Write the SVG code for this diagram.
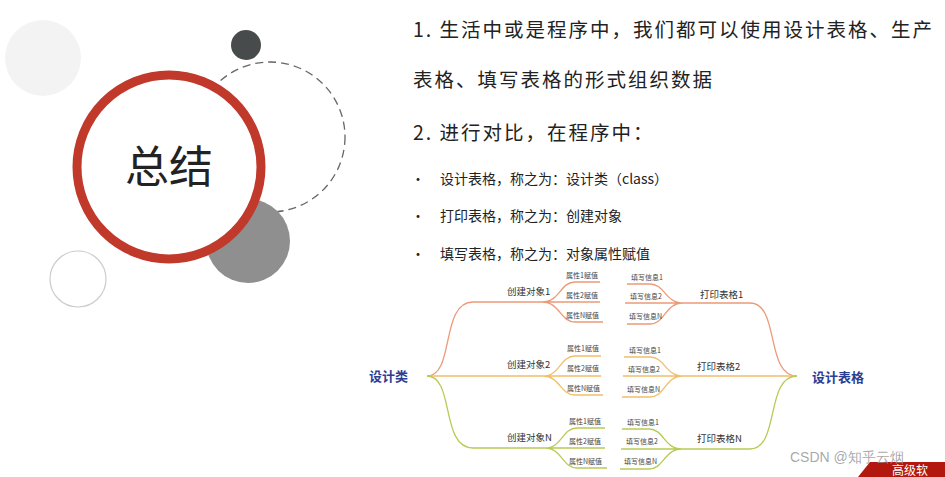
<svg xmlns="http://www.w3.org/2000/svg" width="945" height="477" viewBox="0 0 945 477">
<style>
.t{font-family:"Noto Sans CJK SC","Noto Sans",sans-serif;fill:#222}
.s{font-family:"Noto Sans CJK SC",sans-serif;font-size:7px;fill:#444}
.m{font-family:"Noto Sans CJK SC",sans-serif;font-size:9.5px;fill:#333}
.r{font-family:"Noto Sans CJK SC",sans-serif;font-size:13px;font-weight:bold;fill:#2c3e94}
.c{fill:none;stroke-width:1.3}
.o{stroke:#ec9a78}.y{stroke:#f1be68}.g{stroke:#b9ca55}
</style>
<rect width="945" height="477" fill="#fff"/>
<g id="deco">
<circle cx="43" cy="58" r="38" fill="#f3f3f3"/>
<circle cx="246" cy="45" r="15" fill="#474b4c"/>
<circle cx="270" cy="137" r="75" fill="none" stroke="#666" stroke-width="1.3" stroke-dasharray="8,5"/>
<circle cx="248" cy="241" r="42" fill="#8f8f8f"/>
<circle cx="78" cy="279" r="28" fill="#fff" stroke="#ccc" stroke-width="1.2"/>
<circle cx="169" cy="167" r="92" fill="#fff" stroke="#c0392b" stroke-width="9"/>
<text x="169" y="183" text-anchor="middle" class="t" font-size="44">总结</text>
</g>
<g id="text">
<text x="413" y="37" class="t" font-size="19.5" letter-spacing="2">1. 生活中或是程序中，我们都可以使用设计表格、生产</text>
<text x="413" y="87" class="t" font-size="19.5" letter-spacing="2">表格、填写表格的形式组织数据</text>
<text x="413" y="140" class="t" font-size="19.5" letter-spacing="2">2. 进行对比，在程序中：</text>
<g class="t" font-size="14">
<text x="411" y="184">•</text><text x="440" y="184">设计表格，称之为：设计类（class）</text>
<text x="411" y="221">•</text><text x="440" y="221">打印表格，称之为：创建对象</text>
<text x="411" y="259">•</text><text x="440" y="259">填写表格，称之为：对象属性赋值</text>
</g>
</g>
<g id="connectors">
<path class="c o" d="M427,376 C455,376 440,302 473,302 L542,302" stroke-width="2"/>
<path class="c y" d="M427,376 L543,376" stroke-width="2"/>
<path class="c g" d="M427,376 C455,376 440,448 473,448 L545,448" stroke-width="2"/>
<path class="c o" d="M542,302 C560,302 560,282 575,282 L600,282 M542,302 L600,302 M542,302 C560,302 560,322 575,322 L603,322"/>
<path class="c y" d="M543,376 C560,376 560,356 575,356 L601,356 M543,376 L601,376 M543,376 C560,376 560,395 575,395 L603,395"/>
<path class="c g" d="M545,448 C562,448 562,428 577,428 L605,428 M545,448 L605,448 M545,448 C562,448 562,468 577,468 L607,468"/>
<path class="c o" d="M797,376 C765,376 780,303 750,303 L683,303" stroke-width="2"/>
<path class="c y" d="M797,376 L683,376" stroke-width="2"/>
<path class="c g" d="M797,376 C765,376 780,449 750,449 L682,449" stroke-width="2"/>
<path class="c o" d="M683,303 C665,303 665,284 650,284 L627,284 M683,303 L625,303 M683,303 C665,303 665,324 650,324 L627,324"/>
<path class="c y" d="M683,376 C665,376 665,357 650,357 L624,357 M683,376 L623,376 M683,376 C665,376 665,397 650,397 L622,397"/>
<path class="c g" d="M682,449 C664,449 664,429 649,429 L622,429 M682,449 L621,449 M682,449 C664,449 664,469 649,469 L620,469"/>
</g>
<g id="nodes">
<text id="root-l" x="369" y="381" class="r">设计类</text>
<text id="root-r" x="812" y="382" class="r">设计表格</text>
<text id="obj1" x="507" y="295" class="m">创建对象1</text>
<text id="obj2" x="507" y="368" class="m">创建对象2</text>
<text id="objN" x="507" y="441" class="m">创建对象N</text>
<g class="s">
<text x="566" y="278">属性1赋值</text><text x="566" y="298">属性2赋值</text><text x="566" y="318">属性N赋值</text>
<text x="567" y="351">属性1赋值</text><text x="567" y="371">属性2赋值</text><text x="567" y="391">属性N赋值</text>
<text x="569" y="424">属性1赋值</text><text x="569" y="444">属性2赋值</text><text x="569" y="464">属性N赋值</text>
<text x="631" y="280">填写信息1</text><text x="630" y="299">填写信息2</text><text x="629" y="319">填写信息N</text>
<text x="629" y="353">填写信息1</text><text x="628" y="372">填写信息2</text><text x="627" y="392">填写信息N</text>
<text x="627" y="425">填写信息1</text><text x="626" y="444">填写信息2</text><text x="624" y="464">填写信息N</text>
</g>
<text id="p1" x="700" y="298" class="m">打印表格1</text>
<text id="p2" x="697" y="370" class="m">打印表格2</text>
<text id="pN" x="697" y="442" class="m">打印表格N</text>
</g>
<polygon points="858,477 870,462 945,462 945,477" fill="#b3180f"/>
<text x="892" y="475" font-family="Noto Sans CJK SC,sans-serif" font-size="12" fill="#fff">高级软</text>
<text x="790" y="462" font-family="Liberation Sans,sans-serif" font-size="14" fill="#999" fill-opacity="0.85">CSDN @知乎云烟</text>
</svg>
